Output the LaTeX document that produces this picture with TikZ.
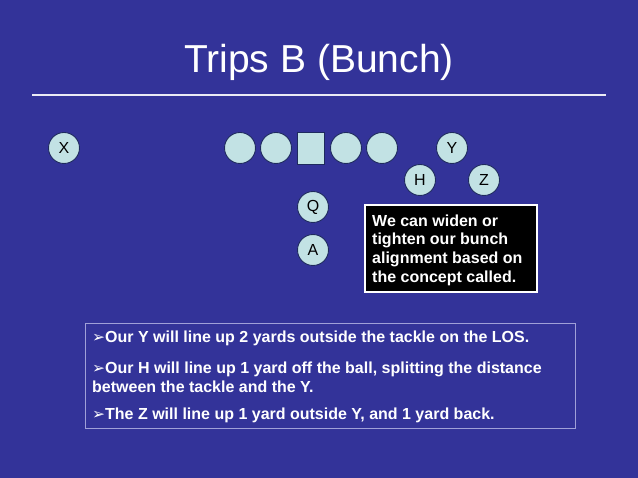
\documentclass[tikz,border=0pt]{standalone}
\usepackage{fontspec}
\setmainfont{Liberation Sans}
\newfontfamily\symfont{DejaVu Sans}
\definecolor{bgblue}{HTML}{333399}
\definecolor{playerfill}{HTML}{C2E2E4}
\definecolor{playerline}{HTML}{1E2A5E}
\definecolor{boxline}{HTML}{A0A0D8}
\tikzset{
  player/.style={circle, draw=playerline, line width=0.9pt, fill=playerfill, minimum size=31pt, inner sep=0pt, font=\fontsize{16}{18}\selectfont, text=black},
  center/.style={rectangle, draw=playerline, line width=0.9pt, fill=playerfill, minimum width=27pt, minimum height=32pt, inner sep=0pt},
  bullettext/.style={anchor=west, text=white, font=\bfseries\fontsize{16}{19}\selectfont, inner sep=0pt, align=left},
}
\newcommand{\arrowbullet}{{\symfont\fontsize{15.5}{17}\selectfont ➢}}
\begin{document}
\begin{tikzpicture}[x=1pt,y=-1pt]
\fill[bgblue] (0,0) rectangle (638,478);
\useasboundingbox (0,0) rectangle (638,478);
% title
\node[text=white, font=\fontsize{39}{44}\selectfont, inner sep=0pt] (title) at (319,62) {Trips B (Bunch)};
\coordinate (ruleL) at (32,95);
\coordinate (ruleR) at (606,95);
\draw[white!90!bgblue, line width=2pt] (ruleL) -- (ruleR);
% players
\node[player] (X) at (64,148) {X};
\node[player] (LT) at (240,148) {};
\node[player] (LG) at (276,148) {};
\node[center] (C) at (311,148) {};
\node[player] (RG) at (346,148) {};
\node[player] (RT) at (382,148) {};
\node[player] (Y) at (452,148) {Y};
\node[player] (H) at (420,180) {H};
\node[player] (Z) at (484,180) {Z};
\node[player] (Q) at (313,207) {Q};
\node[player] (A) at (313,250) {A};
% note box
\node[draw=white, line width=1.5pt, fill=black, minimum width=172pt, minimum height=87pt, inner sep=0pt] (note) at (451,248.5) {};
\node[text=white, anchor=west, inner sep=0pt, align=left, font=\bfseries\fontsize{16}{18.7}\selectfont] (notetext) at (372,250) {We can widen or\\tighten our bunch\\alignment based on\\the concept called.};
% bottom box
\node[draw=boxline, line width=0.8pt, anchor=north west, minimum width=490pt, minimum height=105pt, inner sep=0pt] (bottom) at (85,323) {};
\node[bullettext] (b1) at (92,338) {\arrowbullet Our Y will line up 2 yards outside the tackle on the LOS.};
\node[bullettext] (b2) at (92,377) {\arrowbullet Our H will line up 1 yard off the ball, splitting the distance\\between the tackle and the Y.};
\node[bullettext] (b3) at (92,415) {\arrowbullet The Z will line up 1 yard outside Y, and 1 yard back.};
\end{tikzpicture}
\end{document}
